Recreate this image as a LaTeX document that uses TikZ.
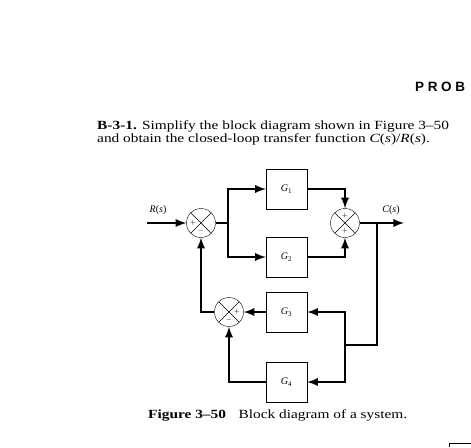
\documentclass[tikz,border=0pt]{standalone}
\usepackage{fontspec}
\setmainfont{Liberation Serif}
\setsansfont{Liberation Sans}
\newfontfamily\bodyfont[Ligatures=TeX,FakeStretch=1.23]{Liberation Serif}
\usetikzlibrary{arrows}

\begin{document}
\begin{tikzpicture}[x=1pt,y=-1pt,
    block/.style={draw,thin,minimum width=41pt,minimum height=40pt,inner sep=0pt,font=\fontsize{10}{12}\selectfont},
    sumnode/.style={draw,thin,circle,minimum size=29pt,inner sep=0pt,
      path picture={\draw (path picture bounding box.north west) -- (path picture bounding box.south east)
        (path picture bounding box.north east) -- (path picture bounding box.south west);}},
    sig/.style={line width=2.6pt,-latex},
    wire/.style={line width=2.6pt},
    sgn/.style={font=\scriptsize,inner sep=0pt},
    txt/.style={anchor=base west,inner sep=0pt,font=\bodyfont\fontsize{12.5}{13.3}\selectfont}]
    \useasboundingbox (0,0) rectangle (471,447);

    % text above and below the figure
    \node[anchor=base west,inner sep=0pt,font=\sffamily\bfseries\fontsize{13.5}{14}\selectfont] (head) at (415,91)
        {\addfontfeature{LetterSpace=27}PROB};
    \node[txt] (line1) at (97,129) {\textbf{B-3-1.} Simplify the block diagram shown in Figure 3--50};
    \node[txt] (line2) at (97,142) {and obtain the closed-loop transfer function \textit{C}(\textit{s})/\textit{R}(\textit{s}).};
    \node[txt] (caption) at (148,418) {\textbf{Figure 3--50}\quad Block diagram of a system.};

    % blocks and summing points
    \node[sumnode] (S1) at (201,223) {};
    \node[sumnode] (S2) at (345,223) {};
    \node[sumnode] (S3) at (229,312) {};
    \node[block] (G1) at (286.5,189) {\textit{G}\textsubscript{1}};
    \node[block] (G2) at (286.5,257) {\textit{G}\textsubscript{2}};
    \node[block] (G3) at (286.5,312) {\textit{G}\textsubscript{3}};
    \node[block] (G4) at (286.5,382) {\textit{G}\textsubscript{4}};

    \node[sgn] at ([xshift=-8pt]S1.center) {$+$};
    \node[sgn] at ([yshift=-8pt]S1.center) {$-$};
    \node[sgn] at ([yshift=7pt]S2.center) {$+$};
    \node[sgn] at ([yshift=-8pt]S2.center) {$+$};
    \node[sgn] at ([xshift=8pt]S3.center) {$+$};
    \node[sgn] at ([yshift=-8pt]S3.center) {$-$};

    \coordinate (in) at (147,223);
    \coordinate (out) at (404,223);
    \coordinate (b1) at (228,223);
    \coordinate (b2) at (377,223);
    \coordinate (b3) at (377,345);
    \coordinate (b4) at (345,345);

    \node[font=\fontsize{10}{12}\selectfont] (R) at (158,210) {\textit{R}(\textit{s})};
    \node[font=\fontsize{10}{12}\selectfont] (C) at (391,210) {\textit{C}(\textit{s})};

    % forward path
    \draw[sig] (in) -- (S1);
    \draw[sig] (S1) -- (b1) |- (G1);
    \draw[sig] (b1) |- (G2);
    \draw[sig] (G1) -| (S2);
    \draw[sig] (G2) -| (S2);
    \draw[sig] (S2) -- (out);

    % feedback
    \draw[wire] (b2) -- (b3) -- (b4);
    \draw[sig] (b4) |- (G3);
    \draw[sig] (b4) |- (G4);
    \draw[sig] (G3) -- (S3);
    \draw[sig] (G4) -| (S3);
    \draw[sig] (S3) -| (S1);

    \draw[thin] (449,447) -- (449,443) -- (471,443);
\end{tikzpicture}
\end{document}
